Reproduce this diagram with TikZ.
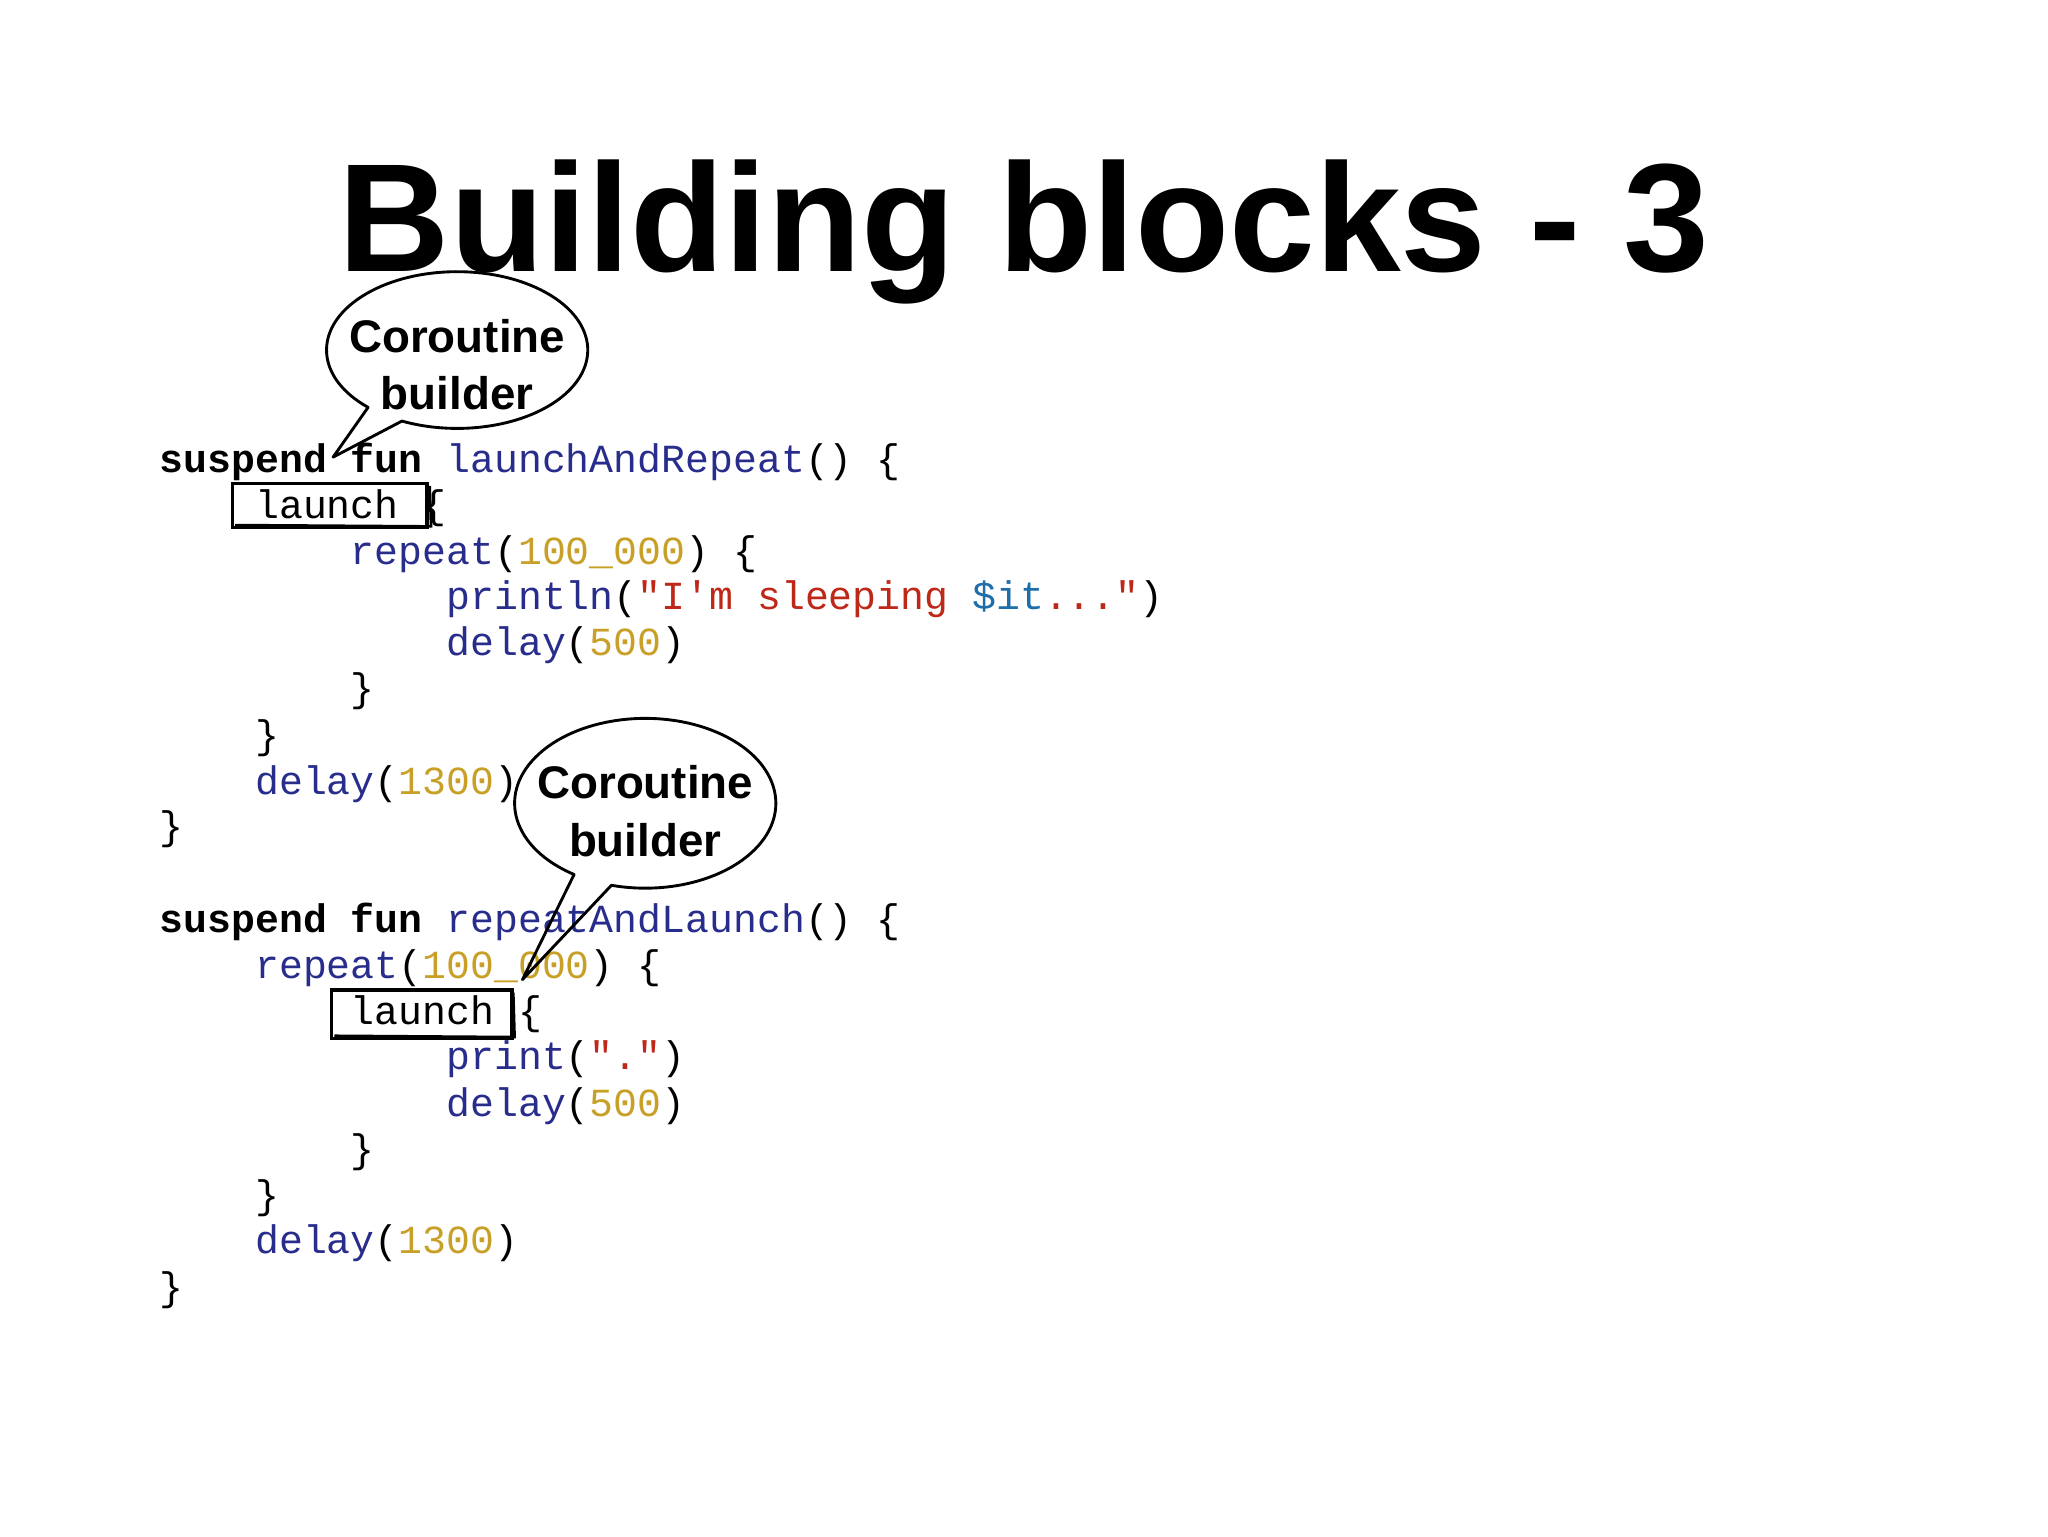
\documentclass[tikz,border=0pt]{standalone}
\usepackage{fontspec}
\setmainfont{Liberation Sans}
\setmonofont{Liberation Mono}
\usetikzlibrary{calc}
\definecolor{kfn}{RGB}{40,45,140}
\definecolor{knum}{RGB}{200,160,40}
\definecolor{kstr}{RGB}{190,40,25}
\definecolor{kvar}{RGB}{30,110,170}
\newcommand{\Kw}[1]{\textbf{#1}}
\newcommand{\Fn}[1]{\textcolor{kfn}{#1}}
\newcommand{\Nm}[1]{\textcolor{knum}{#1}}
\newcommand{\St}[1]{\textcolor{kstr}{#1}}
\newcommand{\Vr}[1]{\textcolor{kvar}{#1}}
\begin{document}
\begin{tikzpicture}[x=1pt,y=-1pt,
  code/.style={anchor=base west,inner sep=0pt,font=\fontsize{30.5}{31}\selectfont\ttfamily},
  bubbletext/.style={align=center,font=\fontsize{35}{44}\selectfont\bfseries},
  lbox/.style={draw,line width=2.5pt},
  bub/.style={draw,line width=2.2pt,line join=round}]
\useasboundingbox (0,0) rectangle (1568,1176);
\node[font=\fontsize{118}{118}\selectfont\bfseries,anchor=base,inner sep=0pt] (title) at (784,208) {Building blocks - 3};
% code
\def\cw{18.3}
\node[code] (l1) at (122,362) {\Kw{suspend fun} \Fn{launchAndRepeat}() \{};
\node[code] (l2) at (122+4*\cw,397) {launch \{};
\node[code] (l3) at (122+8*\cw,432) {\Fn{repeat}(\Nm{100\_000}) \{};
\node[code] (l4) at (122+12*\cw,467) {\Fn{println}(\St{"I'm sleeping }\Vr{\$it}\St{..."})};
\node[code] (l5) at (122+12*\cw,502) {\Fn{delay}(\Nm{500})};
\node[code] (l6) at (122+8*\cw,537) {\}};
\node[code] (l7) at (122+4*\cw,573) {\}};
\node[code] (l8) at (122+4*\cw,608) {\Fn{delay}(\Nm{1300})};
\node[code] (l9) at (122,643) {\}};
\node[code] (m1) at (122,714) {\Kw{suspend fun} \Fn{repeatAndLaunch}() \{};
\node[code] (m2) at (122+4*\cw,749) {\Fn{repeat}(\Nm{100\_000}) \{};
\node[code] (m3) at (122+8*\cw,784) {launch \{};
\node[code] (m4) at (122+12*\cw,819) {\Fn{print}(\St{"."})};
\node[code] (m5) at (122+12*\cw,855) {\Fn{delay}(\Nm{500})};
\node[code] (m6) at (122+8*\cw,890) {\}};
\node[code] (m7) at (122+4*\cw,925) {\}};
\node[code] (m8) at (122+4*\cw,960) {\Fn{delay}(\Nm{1300})};
\node[code] (m9) at (122,996) {\}};
% launch boxes
\draw[lbox] (178,370) rectangle (327,404);
\draw[line width=2pt] (180,402) -- (330,403) -- (329,372);
\draw[lbox] (254,758) rectangle (392,795);
\draw[line width=2pt] (256,793) -- (394,794) -- (393,760);
% bubble 1
\coordinate (c1) at (350,268);
\coordinate (t1) at (255,350);
\fill[white] (c1) ellipse [x radius=100,y radius=60];
\draw[bub] ($(c1)+({100*cos(133)},{60*sin(133)})$) arc[start angle=133,end angle=475,x radius=100,y radius=60] -- (t1) -- cycle;
\node[bubbletext] (b1) at (350,279) {Coroutine\\builder};
% bubble 2
\coordinate (c2) at (494,615);
\coordinate (t2) at (400,750);
\fill[white] (c2) ellipse [x radius=100,y radius=65];
\draw[bub] ($(c2)+({100*cos(123)},{65*sin(123)})$) arc[start angle=123,end angle=465,x radius=100,y radius=65] -- (t2) -- cycle;
\node[bubbletext] (b2) at (494,621) {Coroutine\\builder};
\end{tikzpicture}
\end{document}
